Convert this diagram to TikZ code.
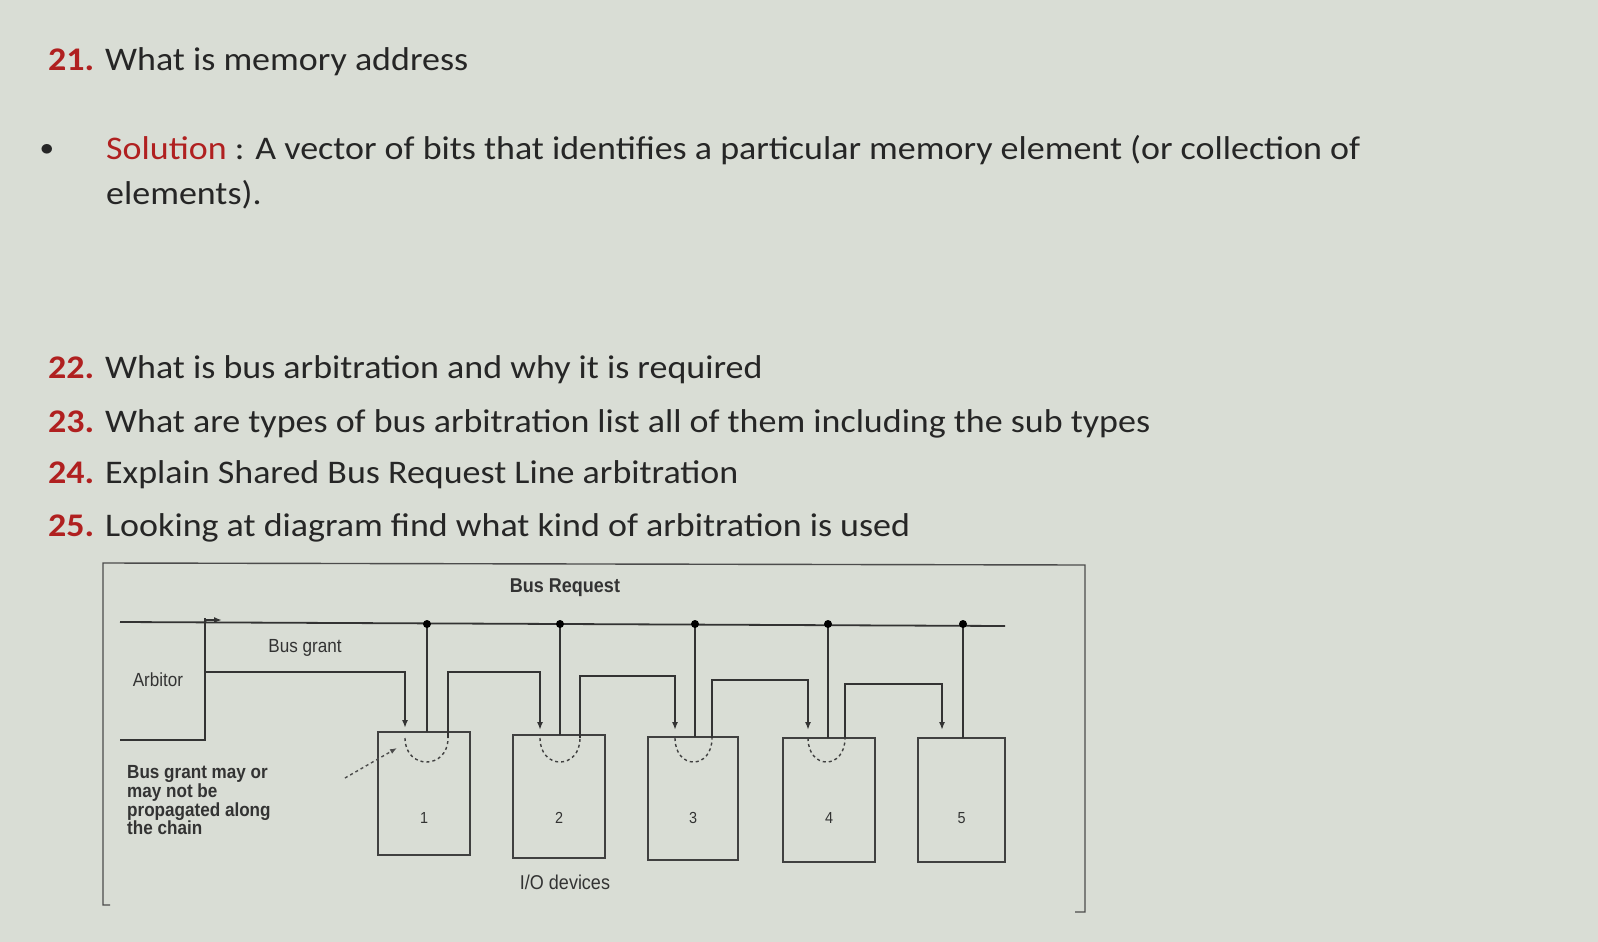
\documentclass[tikz,border=0pt]{standalone}
\usepackage{fontspec}
\setmainfont{Carlito}
\newfontfamily\narrowfont{Liberation Sans}
\usetikzlibrary{arrows.meta}
\definecolor{bg}{HTML}{D9DDD5}
\definecolor{qred}{HTML}{B02020}

\begin{document}
\begin{tikzpicture}[x=1pt,y=-1pt]
	\tikzstyle{qtext}=[anchor=west,font=\fontsize{33}{38}\selectfont,text=black!85,xscale=1.09,inner sep=0pt]
	\tikzstyle{lbl}=[font=\narrowfont\bfseries\fontsize{20}{20}\selectfont,text=black!80,xscale=0.9]
	\tikzstyle{dev}=[draw=black!75,line width=1.6pt]
	\tikzstyle{wire}=[draw=black!80,line width=1.8pt]
	\tikzstyle{gnt}=[wire,-{Latex[length=8pt,width=6pt]}]
	\fill[bg] (0,0) rectangle (1598,942);
	\useasboundingbox (0,0) rectangle (1598,942);
	% questions
	\node[qtext] (q21) at (48,62) {\textcolor{qred}{\textbf{21.}} What is memory address};
	\node[qtext] (dot) at (40,150) {$\bullet$};
	\node[qtext] (sol) at (106,150) {\textcolor{qred}{Solution} : A vector of bits that identifies a particular memory element (or collection of};
	\node[qtext] (sol2) at (106,195) {elements).};
	\node[qtext] (q22) at (48,370) {\textcolor{qred}{\textbf{22.}} What is bus arbitration and why it is required};
	\node[qtext] (q23) at (48,424) {\textcolor{qred}{\textbf{23.}} What are types of bus arbitration list all of them including the sub types};
	\node[qtext] (q24) at (48,475) {\textcolor{qred}{\textbf{24.}} Explain Shared Bus Request Line arbitration};
	\node[qtext] (q25) at (48,528) {\textcolor{qred}{\textbf{25.}} Looking at diagram find what kind of arbitration is used};
	% frame
	\draw[draw=black!70,line width=1.4pt] (110,905) -- (103,905) -- (103,563) -- (1085,565) -- (1085,912) -- (1075,912);
	% arbiter
	\draw[wire] (120,622) -- (1005,626);
	\draw[wire] (120,740) -- (205,740) -- (205,618);
	\draw[gnt] (205,620) -- (222,620);
	\node[lbl] (req) at (565,588) {Bus Request};
	\node[lbl,font=\narrowfont\fontsize{19}{19}\selectfont] (grant) at (305,648) {Bus grant};
	\node[lbl,font=\narrowfont\fontsize{19}{19}\selectfont] (arb) at (158,680) {Arbitor};
	\node[lbl,align=left,anchor=north west,font=\narrowfont\bfseries\fontsize{19}{17}\selectfont] (note) at (124,762) {Bus grant may or\\may not be\\propagated along\\the chain};
	\node[lbl,font=\narrowfont\fontsize{20}{20}\selectfont] (io) at (565,882) {I/O devices};
	% devices
	\foreach \n/\l/\r/\t/\b/\rq in {1/378/470/732/855/427, 2/513/605/735/858/560, 3/648/738/737/860/695, 4/783/875/738/862/828, 5/918/1005/738/862/963} {
		\draw[dev] (\l,\t) rectangle (\r,\b);
		\node[lbl,font=\narrowfont\fontsize{16}{16}\selectfont] (d\n) at ({(\l+\r)/2},818) {\n};
		\draw[wire] (\rq,\t) -- (\rq,624);
		\fill (\rq,624) circle (4pt);
	}
	% grant chain
	\draw[gnt] (205,672) -- (405,672) -- (405,728);
	\foreach \o/\i/\h in {448/540/672, 580/675/676, 712/808/680, 845/942/684} {
		\draw[gnt] (\o,738) -- (\o,\h) -- (\i,\h) -- (\i,730);
	}
	\foreach \i/\o in {405/448, 540/580, 675/712, 808/845} {
		\draw[dashed,line width=1.4pt,black!75] (\i,738) .. controls (\i,770) and (\o,770) .. (\o,738);
	}
	\draw[dashed,line width=1.4pt,black!70,-{Latex[length=7pt]}] (345,778) -- (397,748);
\end{tikzpicture}
\end{document}
